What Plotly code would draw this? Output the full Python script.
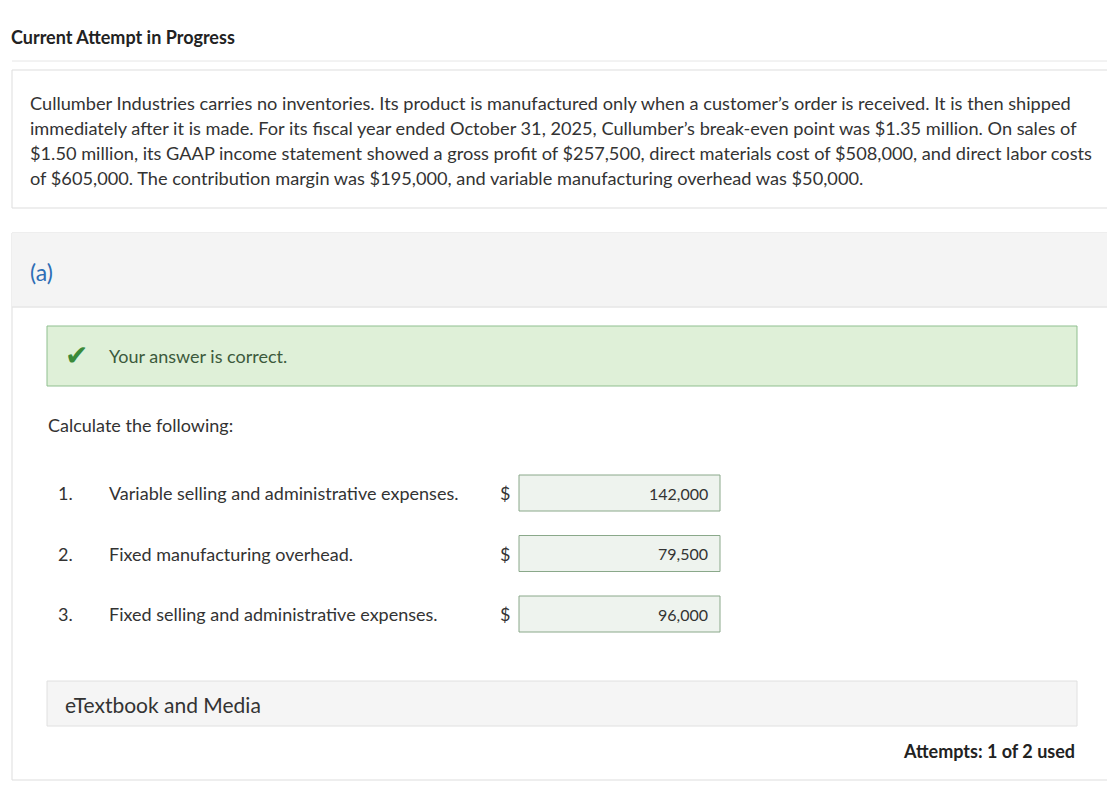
import plotly.graph_objects as go

title = "Current Attempt in Progress"
problem_lines = [
    "Cullumber Industries carries no inventories. Its product is manufactured only when a customer\u2019s order is received. It is then shipped",
    "immediately after it is made. For its fiscal year ended October 31, 2025, Cullumber\u2019s break-even point was $1.35 million. On sales of",
    "$1.50 million, its GAAP income statement showed a gross profit of $257,500, direct materials cost of $508,000, and direct labor costs",
    "of $605,000. The contribution margin was $195,000, and variable manufacturing overhead was $50,000.",
]
part_label = "(a)"
feedback = "Your answer is correct."
prompt = "Calculate the following:"
item_numbers = ["1.", "2.", "3."]
item_labels = ["Variable selling and administrative expenses.", "Fixed manufacturing overhead.",
               "Fixed selling and administrative expenses."]
item_values = ["142,000", "79,500", "96,000"]
resource = "eTextbook and Media"
attempts = "Attempts: 1 of 2 used"

FONT = "Lato, 'Open Sans', sans-serif"
TXT = "#333333"
O = 8  # page body margin offset
fig = go.Figure()
shapes, ann = [], []

def rect(x0, y0, x1, y1, fill, line, w=1):
    shapes.append(dict(type="rect", xref="x", yref="y", x0=x0 - O, y0=y0 - O, x1=x1 - O, y1=y1 - O,
                       fillcolor=fill, line=dict(color=line, width=w), layer="below"))

def text(x, y, s, size=18, color=TXT, anchor="left", bold=False):
    ann.append(dict(x=x - O, y=y - O, xref="x", yref="y", text=f"<b>{s}</b>" if bold else s,
                    showarrow=False, xanchor=anchor, yanchor="middle",
                    font=dict(family=FONT, size=size, color=color)))

text(9, 37, title, 18, "#222222", bold=True)
shapes.append(dict(type="line", x0=12 - O, x1=1112 - O, y0=61 - O, y1=61 - O, line=dict(color="#e6e6e6", width=1)))
rect(12, 70, 1112, 208, "white", "#dddddd")
for i, line in enumerate(problem_lines):
    text(28, 103 + 25 * i, line, 18.2)

rect(12, 233, 1112, 780, "white", "#dddddd")
rect(12.5, 233.5, 1111.5, 307, "#f4f4f4", "#f4f4f4")
shapes.append(dict(type="line", x0=12 - O, x1=1112 - O, y0=307 - O, y1=307 - O, line=dict(color="#e0e0e0", width=1)))
text(28, 272, part_label, 23, "#2d6db5")

rect(47, 326, 1077, 386, "#dff0d8", "#8fbf8f")
text(76, 354, "\u2714", 28, "#3a8a3a", anchor="center")
text(107, 356, feedback, 18, "#3c5a3c")
text(46, 425, prompt, 18)

for i, (n, lab, v) in enumerate(zip(item_numbers, item_labels, item_values)):
    y = 493 + i * 60.5
    text(56, y, n, 18)
    text(107, y, lab, 18)
    text(505, y, "$", 18, anchor="center")
    rect(519, y - 18, 720, y + 18, "#eef3ee", "#8aa88a")
    text(710, y, v, 16, anchor="right")

rect(47, 681, 1077, 726, "#f5f5f5", "#e0e0e0")
text(63, 704, resource, 21)
text(1077, 751, attempts, 18, "#222222", anchor="right", bold=True)

fig.update_layout(width=1115, height=800, margin=dict(l=0, r=0, t=0, b=0),
                  paper_bgcolor="white", plot_bgcolor="white",
                  xaxis=dict(range=[0, 1115], visible=False, fixedrange=True),
                  yaxis=dict(range=[800, 0], visible=False, fixedrange=True),
                  shapes=shapes, annotations=ann, showlegend=False)
fig.write_html("out.html", config={"displayModeBar": False})
